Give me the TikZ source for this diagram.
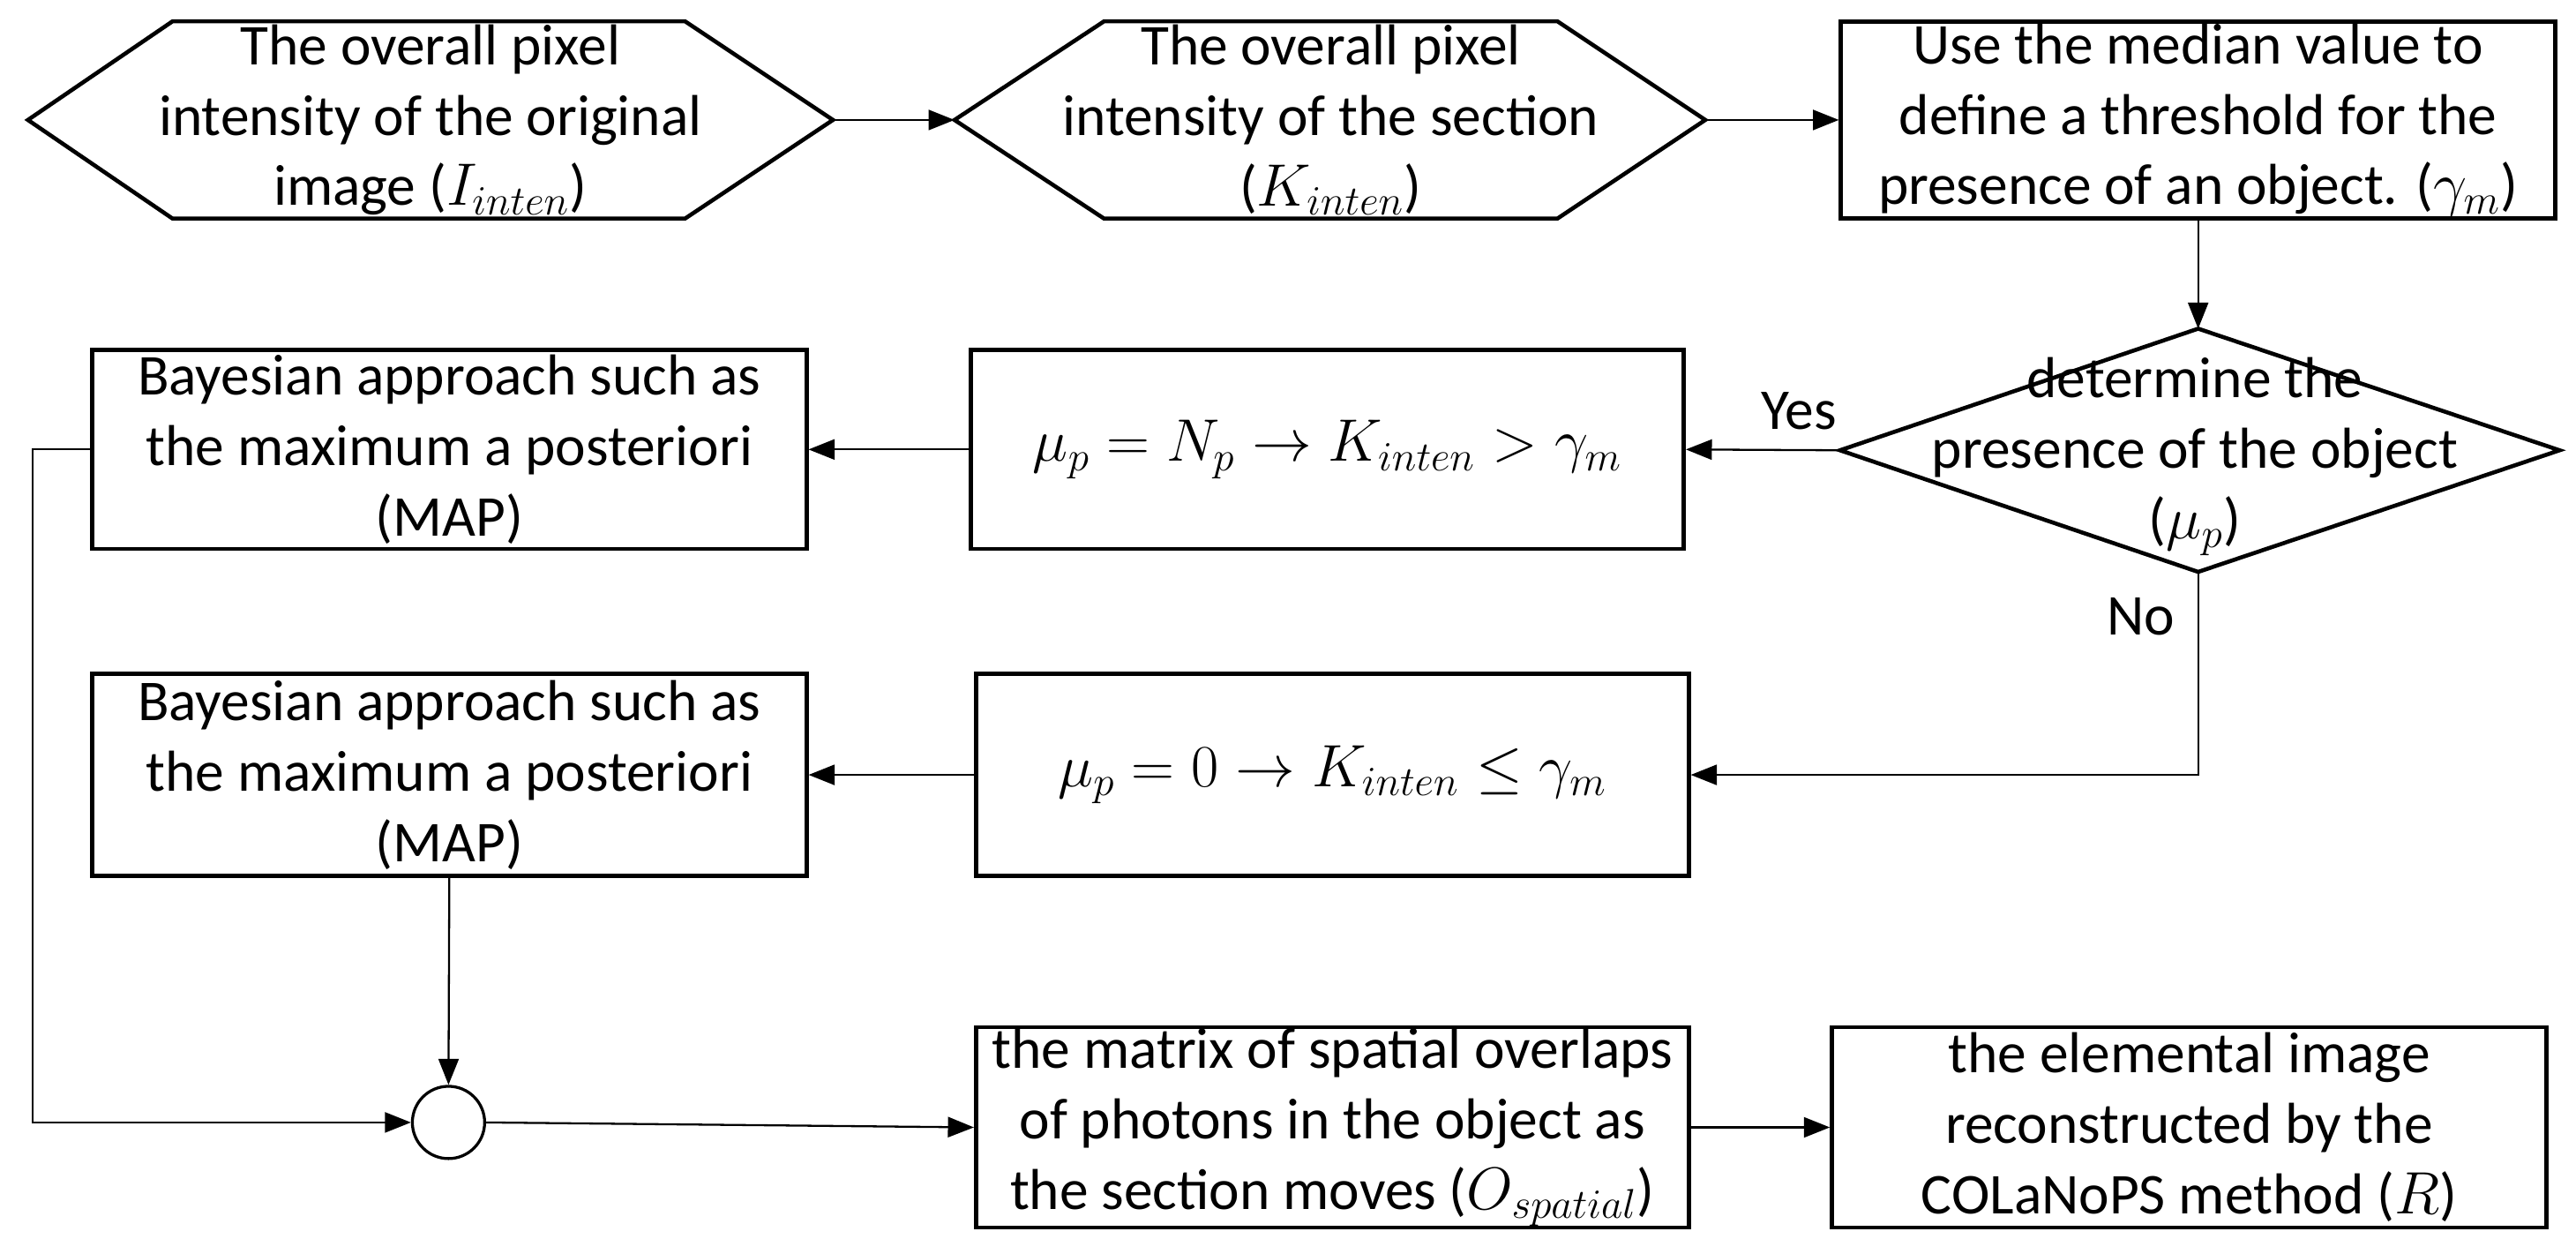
\documentclass[tikz,border=0pt]{standalone}
\usepackage{fontspec}
\setmainfont{Carlito}
\usetikzlibrary{arrows.meta,shapes.geometric}
\begin{document}
\begin{tikzpicture}[x=0.02cm,y=-0.02cm,
  box/.style={draw,line width=1.4pt,align=center,font=\fontsize{20}{24.4}\selectfont},
  con/.style={line width=0.7pt},
  arr/.style={con,-{Triangle[length=9pt,width=7pt]}},
  lab/.style={font=\fontsize{20}{24}\selectfont}]
\useasboundingbox (0,0) rectangle (1568,763);
% hexagons
\draw[line width=1.4pt] (17,73)--(105,13)--(417,13)--(507,73)--(417,133)--(105,133)--cycle;
\node[lab,align=center,font=\fontsize{20}{24.4}\selectfont] (h1) at (262,73) {The overall pixel\\intensity of the original\\image ($I_{inten}$)};
\coordinate (h1r) at (507,73);
\draw[line width=1.4pt] (581,73)--(672,13)--(948,13)--(1038,73)--(948,133)--(672,133)--cycle;
\node[lab,align=center,font=\fontsize{20}{24.4}\selectfont] (h2) at (810,73) {The overall pixel\\intensity of the section\\($K_{inten}$)};
\coordinate (h2l) at (581,73);
\coordinate (h2r) at (1038,73);
\node[box,minimum width=8.7cm,minimum height=2.4cm,inner sep=0pt] (r3) at (1338,73) {Use the median value to\\define a threshold for the\\presence of an object. ($\gamma_m$)};
% diamond
\draw[line width=1.4pt] (1338,200)--(1558,274)--(1338,348)--(1120,274)--cycle;
\node[lab,align=center,font=\fontsize{20}{24.4}\selectfont] (d) at (1336,278) {determine the\\presence of the object\\($\mu_p$)};
\coordinate (dt) at (1338,200);
\coordinate (dl) at (1120,274);
\coordinate (db) at (1338,348);
\node[box,minimum width=8.68cm,minimum height=2.42cm,inner sep=0pt] (m1) at (808,273.5) {$\mu_p = N_p \rightarrow K_{inten} > \gamma_m$};
\node[box,minimum width=8.7cm,minimum height=2.42cm,inner sep=0pt] (a1) at (273.5,273.5) {Bayesian approach such as\\the maximum a posteriori\\(MAP)};
\node[box,minimum width=8.68cm,minimum height=2.46cm,inner sep=0pt] (m2) at (811,471.5) {$\mu_p = 0 \rightarrow K_{inten} \leq \gamma_m$};
\node[box,minimum width=8.7cm,minimum height=2.46cm,inner sep=0pt] (a2) at (273.5,471.5) {Bayesian approach such as\\the maximum a posteriori\\(MAP)};
\node[draw,circle,line width=1pt,minimum size=0.88cm,inner sep=0pt] (c) at (273,683) {};
\node[box,minimum width=8.68cm,minimum height=2.44cm,inner sep=0pt] (o) at (811,686) {the matrix of spatial overlaps\\of photons in the object as\\the section moves ($O_{spatial}$)};
\node[box,minimum width=8.7cm,minimum height=2.44cm,inner sep=0pt] (r) at (1332.5,686) {the elemental image\\reconstructed by the\\COLaNoPS method ($R$)};
\node[lab] at (1095,250) {Yes};
\node[lab] at (1303,375) {No};
% connectors
\draw[arr] (h1r) -- (h2l);
\draw[arr] (h2r) -- (r3.west);
\draw[arr] (r3.south) -- (dt);
\draw[arr] (dl) -- (m1.east);
\draw[arr] (m1.west) -- (a1.east);
\draw[arr] (db) |- (m2.east);
\draw[arr] (m2.west) -- (a2.east);
\draw[arr] (a1.west) -- (20,273.5) |- (c.west);
\draw[arr] (a2.south) -- (c.north);
\draw[arr] (c.east) -- (o.west);
\draw[arr] (o.east) -- (r.west);
\end{tikzpicture}
\end{document}
